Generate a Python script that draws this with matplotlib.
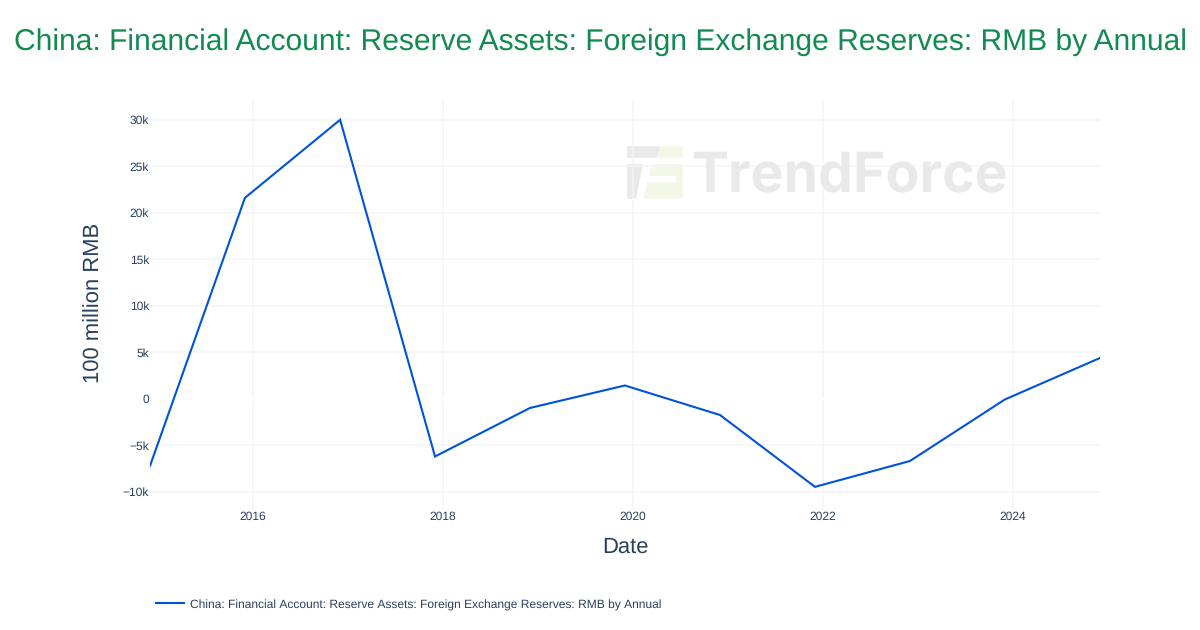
import datetime as dt

import matplotlib
matplotlib.use("Agg")
import matplotlib.dates as mdates
import matplotlib.pyplot as plt
from matplotlib.patches import Polygon

# annual values, stamped on 1 December of each year
years = [2014, 2015, 2016, 2017, 2018, 2019, 2020, 2021, 2022, 2023, 2024]
values = [-7250, 21600, 30000, -6230, -1010, 1410, -1770, -9500, -6720, -100, 4370]
ytick_values = [-10000, -5000, 0, 5000, 10000, 15000, 20000, 25000, 30000]
ytick_labels = ["\u221210k", "\u22125k", "0", "5k", "10k", "15k", "20k", "25k", "30k"]
xtick_years = [2016, 2018, 2020, 2022, 2024]

series_name = "China: Financial Account: Reserve Assets: Foreign Exchange Reserves: RMB by Annual"

W, H = 1200, 630
TEXT = "#2a3f5f"
GRID = "#f4f5f7"
LINE = "#0052d9"
GREEN = "#138a52"

plt.rcParams["font.family"] = ["Liberation Sans", "DejaVu Sans"]
plt.rcParams["text.hinting"] = "none"
plt.rcParams["text.hinting_factor"] = 1


def px(x, y):
    # pixel position from the top-left corner -> figure fraction
    return x / W, 1 - y / H


def draw_logo(fig):
    gray = "#e9e9e9"
    green = "#f3f8e6"
    shapes = [
        ([(628, 147), (660, 147), (656, 157), (628, 157)], gray),
        ([(628, 165), (642, 165), (635, 198), (628, 198)], gray),
        ([(662, 147), (682, 147), (682, 157), (658, 157)], green),
        ([(653, 165), (682, 165), (682, 198), (644, 198), (648, 183), (677, 183), (677, 175), (650, 175)], green),
    ]
    for pts, col in shapes:
        fig.add_artist(Polygon([px(*p) for p in pts], closed=True, transform=fig.transFigure,
                               facecolor=col, edgecolor=col, lw=1.2, joinstyle="round", zorder=0))
    fig.text(*px(692, 191), "TrendForce", fontsize=39.9, fontweight="bold", family="Inter",
             color="#e9e9e9", ha="left", va="baseline", zorder=0)


def main():
    fig = plt.figure(figsize=(W / 100, H / 100), dpi=100, facecolor="white")
    ax = fig.add_axes([150 / W, 1 - 510 / H, 950 / W, 410 / H])
    ax.patch.set_alpha(0)

    dates = [dt.date(y, 12, 1) for y in years]
    ax.plot(dates, values, color=LINE, lw=1.5, solid_joinstyle="miter", zorder=4,
            label=series_name, clip_on=True)

    ax.set_xlim(dates[0], dates[-1])
    ax.set_ylim(-11990, 32130)

    ax.set_yticks(ytick_values)
    ax.set_yticklabels(ytick_labels)
    ax.set_xticks([mdates.date2num(dt.date(y, 1, 1)) for y in xtick_years])
    ax.set_xticklabels([str(y) for y in xtick_years])
    ax.tick_params(axis="both", length=0, labelsize=8.9, labelcolor=TEXT)
    ax.tick_params(axis="y", pad=0.7)
    ax.tick_params(axis="x", pad=1.0)
    ax.grid(True, color=GRID, lw=1.1, zorder=1)
    ax.set_axisbelow(True)
    ax.axhline(0, color="white", lw=2, zorder=2)
    for side in ax.spines.values():
        side.set_visible(False)

    fig.text(*px(94, 303), "100 million RMB", fontsize=15.8, color=TEXT, rotation=90, ha="center", va="center")
    fig.text(*px(625, 547), "Date", fontsize=15.8, color=TEXT, ha="center", va="center")
    fig.text(*px(600, 42), series_name, fontsize=21.9, color=GREEN, ha="center", va="center")

    # legend is laid out by hand so it sits under the axis title
    fig.add_artist(plt.Line2D([155 / W, 185 / W], [1 - 603 / H] * 2, color=LINE, lw=1.5,
                              solid_capstyle="butt", transform=fig.transFigure))
    fig.text(*px(190, 605), series_name, fontsize=8.65, color=TEXT, ha="left", va="center")

    draw_logo(fig)
    fig.savefig("out.png", dpi=100)


if __name__ == "__main__":
    main()
